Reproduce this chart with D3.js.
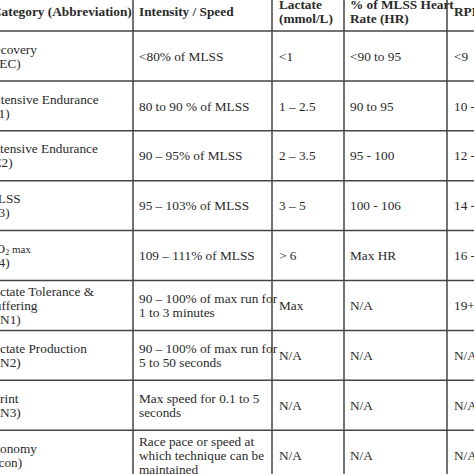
<!DOCTYPE html>
<html><head><meta charset="utf-8">
<script src="https://cdn.jsdelivr.net/npm/d3@7"></script>
<style>body{margin:0;background:#fff}svg{display:block}</style>
</head><body>
<div id="chart"></div>
<script>
// table contents
const headers = [["Category (Abbreviation)"], ["Intensity / Speed"], ["Lactate", "(mmol/L)"], ["% of MLSS Heart", "Rate (HR)"], ["RPE"]];
const categories = [
  ["Recovery", "(REC)"], ["Extensive Endurance", "(E1)"], ["Intensive Endurance", "(E2)"],
  ["MLSS", "(E3)"], ["VO2 max", "(E4)"], ["Lactate Tolerance &", "Buffering", "(AN1)"],
  ["Lactate Production", "(AN2)"], ["Sprint", "(AN3)"], ["Economy", "(Econ)"]
];
const intensity = [
  ["<80% of MLSS"], ["80 to 90 % of MLSS"], ["90 – 95% of MLSS"], ["95 – 103% of MLSS"],
  ["109 – 111% of MLSS"], ["90 – 100% of max run for", "1 to 3 minutes"],
  ["90 – 100% of max run for", "5 to 50 seconds"], ["Max speed for 0.1 to 5", "seconds"],
  ["Race pace or speed at", "which technique can be", "maintained"]
];
const lactate = ["<1", "1 – 2.5", "2 – 3.5", "3 – 5", "> 6", "Max", "N/A", "N/A", "N/A"];
const heartRate = ["<90 to 95", "90 to 95", "95 - 100", "100 - 106", "Max HR", "N/A", "N/A", "N/A", "N/A"];
const rpe = ["<9", "10 - 11", "12 - 13", "14 - 15", "16 - 18", "19+", "N/A", "N/A", "N/A"];

const W = 474, H = 474;
const colEdges = [133, 272, 344, 447];
const textX = [-14, 139, 279, 350, 454];
const y = d3.scaleLinear().domain([0, 9]).range([31, 31 + 9 * 49.9]);
const lh = 14;

const svg = d3.select("#chart").append("svg").attr("width", W).attr("height", H)
  .style("font-family", "'Liberation Serif', 'Times New Roman', serif").style("font-size", "13.3px").style("fill", "#2a2a2a");

// grid
svg.selectAll("line.h").data(d3.range(0, 9)).join("line")
  .attr("x1", 0).attr("x2", W).attr("y1", d => y(d)).attr("y2", d => y(d))
  .attr("stroke", "#444").attr("stroke-width", 1.5);
svg.selectAll("line.v").data(colEdges).join("line")
  .attr("x1", d => d).attr("x2", d => d).attr("y1", 0).attr("y2", H)
  .attr("stroke", "#444").attr("stroke-width", 1.5);

function cell(lines, x, cy, bold) {
  const t = svg.append("text").attr("x", x).attr("font-weight", bold ? "bold" : null);
  const y0 = cy - (lines.length - 1) * lh / 2;
  lines.forEach((s, i) => {
    const ts = t.append("tspan").attr("x", x).attr("y", y0 + i * lh).attr("dy", "0.35em");
    if (s === "VO2 max") {
      ts.text("VO");
      ts.append("tspan").attr("font-size", "8px").attr("dy", "2").text("2");
      ts.append("tspan").attr("dy", "-2").attr("font-size", "11px").text(" max");
    } else ts.text(s);
  });
}

headers.forEach((h, j) => cell(h, j === 0 ? -8 : textX[j], 11, true));

const rowsCols = [categories, intensity, lactate.map(d => [d]), heartRate.map(d => [d]), rpe.map(d => [d])];
rowsCols.forEach((col, j) => {
  col.forEach((lines, i) => {
    let x = textX[j];
    if (j === 0 && lines[0].startsWith("Intensive")) x = -11;
    cell(lines, x, (y(i) + y(i + 1)) / 2, false);
  });
});
</script>
</body></html>
